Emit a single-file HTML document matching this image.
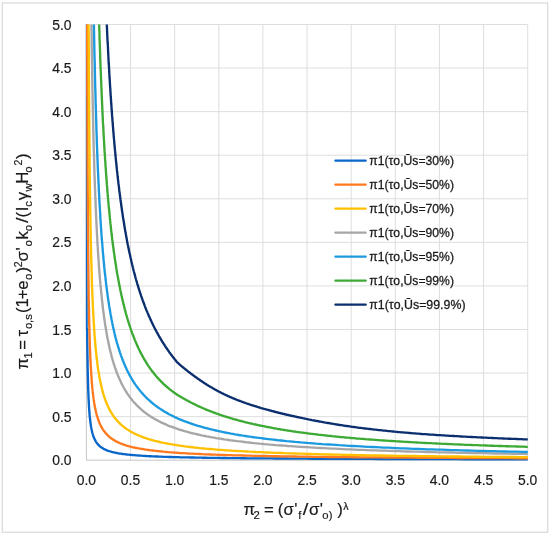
<!DOCTYPE html>
<html><head><meta charset="utf-8"><title>chart</title>
<style>
html,body{margin:0;padding:0;background:#fff;}
svg{display:block;}
text{font-family:"Liberation Sans",sans-serif;fill:#1a1a1a;}
</style></head><body>
<svg width="550" height="538" viewBox="0 0 550 538">
<rect x="0" y="0" width="550" height="538" fill="#fff"/>
<rect x="2.3" y="3.0" width="545.4" height="529.3" fill="none" stroke="#dedede" stroke-width="1.4"/>
<path d="M130.53 24.50V460.20M86.40 416.63H527.70M174.66 24.50V460.20M86.40 373.06H527.70M218.79 24.50V460.20M86.40 329.49H527.70M262.92 24.50V460.20M86.40 285.92H527.70M307.05 24.50V460.20M86.40 242.35H527.70M351.18 24.50V460.20M86.40 198.78H527.70M395.31 24.50V460.20M86.40 155.21H527.70M439.44 24.50V460.20M86.40 111.64H527.70M483.57 24.50V460.20M86.40 68.07H527.70M527.70 24.50V460.20M86.40 24.50H527.70" stroke="#dadada" stroke-width="0.9" fill="none"/>
<path d="M86.40 24.50V460.20H527.70" stroke="#c6c6c6" stroke-width="1" fill="none"/>
<clipPath id="pc"><rect x="85.7" y="24.50" width="442.10" height="438.70"/></clipPath>
<g clip-path="url(#pc)" fill="none" stroke-linejoin="round" stroke-linecap="butt">
<path d="M86.5 -27.8L86.5 68.9L86.5 133.5L86.5 179.9L86.5 214.7L86.5 241.8L86.5 263.6L86.5 281.4L86.6 296.2L86.6 308.8L86.6 319.6L86.6 328.9L86.6 328.9L86.6 328.9L86.6 328.9L86.6 328.9L86.6 328.9L86.6 328.9L86.6 328.9L86.6 328.9L86.7 328.9L86.7 328.9L86.7 328.9L86.7 328.9L86.7 328.9L86.7 328.9L86.7 328.9L86.7 328.9L86.7 328.9L86.7 328.9L86.7 328.9L86.7 328.9L86.7 328.9L86.8 328.9L86.8 328.9L86.8 328.9L86.8 328.9L86.8 328.9L86.8 328.9L86.8 328.9L86.8 328.9L86.8 328.9L86.8 328.9L86.9 328.9L86.9 328.9L86.9 328.9L86.9 328.9L86.9 328.9L86.9 328.9L86.9 328.9L86.9 328.9L87.0 328.9L87.0 328.9L87.0 328.9L87.0 328.9L87.0 328.9L87.0 328.9L87.1 328.9L87.1 328.9L87.1 328.9L87.1 328.9L87.1 329.2L87.1 331.1L87.2 333.0L87.2 334.9L87.2 336.7L87.2 338.6L87.2 340.5L87.3 342.4L87.3 344.2L87.3 346.1L87.3 347.9L87.4 349.7L87.4 351.6L87.4 353.4L87.4 355.2L87.5 356.9L87.5 358.7L87.5 360.4L87.6 362.2L87.6 363.9L87.6 365.6L87.6 367.2L87.7 368.9L87.7 370.5L87.7 372.1L87.8 373.7L87.8 375.3L87.9 376.9L87.9 378.4L87.9 379.9L88.0 381.4L88.0 382.9L88.1 384.4L88.1 385.8L88.1 387.2L88.2 388.6L88.2 390.0L88.3 391.3L88.3 392.6L88.4 394.0L88.4 395.2L88.5 396.5L88.5 397.8L88.6 399.0L88.7 400.2L88.7 401.4L88.8 402.5L88.8 403.7L88.9 404.8L89.0 405.9L89.0 407.0L89.1 408.1L89.2 409.1L89.2 410.2L89.3 411.2L89.4 412.2L89.5 413.1L89.5 414.1L89.6 415.0L89.7 416.0L89.8 416.9L89.9 417.8L90.0 418.6L90.1 419.5L90.2 420.3L90.3 421.1L90.4 421.9L90.5 422.7L90.6 423.5L90.7 424.3L90.8 425.0L90.9 425.8L91.0 426.5L91.2 427.2L91.3 427.9L91.4 428.5L91.5 429.2L91.7 429.9L91.8 430.5L91.9 431.1L92.1 431.7L92.2 432.3L92.4 432.9L92.5 433.5L92.7 434.0L92.9 434.6L93.0 435.1L93.2 435.7L93.4 436.2L93.6 436.7L93.8 437.2L94.0 437.7L94.1 438.1L94.4 438.6L94.6 439.1L94.8 439.5L95.0 439.9L95.2 440.4L95.4 440.8L95.7 441.2L95.9 441.6L96.2 442.0L96.4 442.4L96.7 442.8L97.0 443.1L97.2 443.5L97.5 443.8L97.8 444.2L98.1 444.5L98.4 444.8L98.7 445.2L99.0 445.5L99.4 445.8L99.7 446.1L100.1 446.4L100.4 446.7L100.8 447.0L101.2 447.2L101.5 447.5L101.9 447.8L102.3 448.0L102.8 448.3L103.2 448.6L103.6 448.8L104.1 449.0L104.5 449.3L105.0 449.5L105.5 449.7L106.0 449.9L106.5 450.2L107.0 450.4L107.6 450.6L108.1 450.8L108.7 451.0L109.3 451.2L109.9 451.3L110.5 451.5L111.1 451.7L111.7 451.9L112.4 452.1L113.1 452.2L113.8 452.4L114.5 452.6L115.2 452.7L116.0 452.9L116.7 453.0L117.5 453.2L118.3 453.3L119.2 453.5L120.0 453.6L120.9 453.7L121.8 453.9L122.7 454.0L123.7 454.1L124.7 454.2L125.7 454.4L126.7 454.5L127.7 454.6L128.8 454.7L129.9 454.8L131.1 454.9L132.2 455.0L133.4 455.1L134.6 455.2L135.9 455.3L137.2 455.4L138.5 455.5L139.9 455.6L141.3 455.7L142.7 455.8L144.2 455.9L145.7 456.0L147.2 456.1L148.8 456.2L150.4 456.2L152.1 456.3L153.8 456.4L155.6 456.5L157.4 456.5L159.2 456.6L161.1 456.7L163.1 456.8L165.1 456.8L167.1 456.9L169.3 457.0L171.4 457.0L173.6 457.1L175.9 457.1L178.2 457.2L180.6 457.3L183.1 457.3L185.6 457.4L188.2 457.4L190.9 457.5L193.6 457.5L196.4 457.6L199.3 457.6L202.2 457.7L205.2 457.7L208.3 457.8L211.5 457.8L214.8 457.9L218.1 457.9L221.6 458.0L225.1 458.0L228.7 458.1L232.4 458.1L236.2 458.1L240.1 458.2L244.1 458.2L248.2 458.3L252.5 458.3L256.8 458.3L261.3 458.4L265.8 458.4L270.5 458.4L275.3 458.5L280.2 458.5L285.3 458.5L290.5 458.6L295.8 458.6L301.3 458.6L306.9 458.7L312.6 458.7L318.5 458.7L324.6 458.7L330.8 458.8L337.2 458.8L343.7 458.8L350.4 458.9L357.3 458.9L364.4 458.9L371.6 458.9L379.1 459.0L386.7 459.0L394.5 459.0L402.6 459.0L410.8 459.0L419.3 459.1L428.0 459.1L436.9 459.1L446.0 459.1L455.4 459.2L465.0 459.2L474.9 459.2L485.0 459.2L495.4 459.2L506.1 459.2L517.1 459.3L528.3 459.3" stroke="#0A66C8" stroke-width="2.35"/>
<path d="M87.1 -28.6L87.1 -18.6L87.1 -8.8L87.1 0.7L87.2 10.1L87.2 19.2L87.2 28.2L87.2 36.9L87.2 45.5L87.2 53.8L87.3 62.0L87.3 70.0L87.3 77.9L87.3 85.5L87.3 93.0L87.4 100.3L87.4 107.5L87.4 114.5L87.4 121.4L87.5 128.1L87.5 134.7L87.5 141.1L87.5 147.4L87.5 153.6L87.6 159.6L87.6 165.5L87.6 171.3L87.7 177.0L87.7 182.5L87.7 187.9L87.7 193.3L87.8 198.5L87.8 203.5L87.8 208.5L87.9 213.4L87.9 218.2L87.9 222.9L88.0 227.4L88.0 231.9L88.0 236.3L88.1 240.6L88.1 244.8L88.1 249.0L88.2 253.0L88.2 257.0L88.2 260.8L88.3 264.6L88.3 268.4L88.4 272.0L88.4 275.6L88.5 279.1L88.5 282.5L88.5 285.9L88.6 289.2L88.6 292.4L88.7 295.5L88.7 298.6L88.8 301.7L88.8 304.7L88.9 307.6L89.0 310.4L89.0 313.2L89.1 316.0L89.1 318.7L89.2 321.3L89.2 323.9L89.3 326.4L89.4 328.9L89.4 331.4L89.5 333.8L89.6 336.1L89.6 338.4L89.7 340.7L89.8 342.9L89.9 345.0L89.9 347.2L90.0 349.2L90.1 351.3L90.2 353.3L90.2 355.2L90.3 357.2L90.4 359.1L90.5 360.9L90.6 362.7L90.7 364.5L90.8 366.3L90.9 368.0L91.0 369.7L91.1 371.3L91.2 372.9L91.3 374.5L91.4 376.1L91.5 377.6L91.6 379.1L91.7 380.6L91.8 382.0L91.9 383.5L92.1 384.9L92.2 386.2L92.3 387.6L92.4 388.9L92.6 390.2L92.7 391.4L92.9 392.7L93.0 393.9L93.1 395.1L93.3 396.3L93.4 397.4L93.6 398.5L93.7 399.7L93.9 400.7L94.1 401.8L94.2 402.9L94.4 403.9L94.6 404.9L94.8 405.9L94.9 406.9L95.1 407.8L95.3 408.8L95.5 409.7L95.7 410.6L95.9 411.5L96.1 412.4L96.3 413.2L96.5 414.1L96.8 414.9L97.0 415.7L97.2 416.5L97.5 417.3L97.7 418.0L98.0 418.8L98.2 419.5L98.5 420.3L98.7 421.0L99.0 421.7L99.3 422.4L99.5 423.0L99.8 423.7L100.1 424.3L100.4 425.0L100.7 425.6L101.0 426.2L101.4 426.8L101.7 427.4L102.0 428.0L102.4 428.6L102.7 429.1L103.1 429.7L103.4 430.2L103.8 430.8L104.2 431.3L104.6 431.8L105.0 432.3L105.4 432.8L105.8 433.3L106.2 433.8L106.6 434.2L107.1 434.7L107.5 435.2L108.0 435.6L108.5 436.0L108.9 436.5L109.4 436.9L109.9 437.3L110.4 437.7L111.0 438.1L111.5 438.5L112.1 438.9L112.6 439.3L113.2 439.6L113.8 440.0L114.4 440.4L115.0 440.7L115.6 441.1L116.2 441.4L116.9 441.7L117.5 442.1L118.2 442.4L118.9 442.7L119.6 443.0L120.4 443.3L121.1 443.6L121.8 443.9L122.6 444.2L123.4 444.5L124.2 444.8L125.0 445.0L125.9 445.3L126.7 445.6L127.6 445.8L128.5 446.1L129.4 446.3L130.4 446.6L131.3 446.8L132.3 447.1L133.3 447.3L134.3 447.5L135.4 447.8L136.5 448.0L137.5 448.2L138.7 448.4L139.8 448.6L141.0 448.8L142.2 449.0L143.4 449.2L144.6 449.4L145.9 449.6L147.2 449.8L148.5 450.0L149.9 450.2L151.2 450.4L152.6 450.5L154.1 450.7L155.6 450.9L157.1 451.0L158.6 451.2L160.2 451.4L161.8 451.5L163.4 451.7L165.1 451.8L166.8 452.0L168.6 452.1L170.4 452.3L172.2 452.4L174.1 452.6L176.0 452.7L177.9 452.8L179.9 453.0L182.0 453.1L184.1 453.2L186.2 453.3L188.4 453.5L190.6 453.6L192.9 453.7L195.2 453.8L197.6 453.9L200.0 454.0L202.5 454.2L205.0 454.3L207.6 454.4L210.2 454.5L212.9 454.6L215.7 454.7L218.5 454.8L221.4 454.9L224.3 455.0L227.3 455.1L230.4 455.2L233.5 455.3L236.7 455.3L240.0 455.4L243.4 455.5L246.8 455.6L250.3 455.7L253.9 455.8L257.5 455.8L261.2 455.9L265.0 456.0L268.9 456.1L272.9 456.2L277.0 456.2L281.1 456.3L285.4 456.4L289.7 456.4L294.1 456.5L298.7 456.6L303.3 456.6L308.0 456.7L312.9 456.8L317.8 456.8L322.8 456.9L328.0 457.0L333.3 457.0L338.6 457.1L344.1 457.1L349.8 457.2L355.5 457.2L361.4 457.3L367.4 457.3L373.5 457.4L379.7 457.4L386.1 457.5L392.7 457.5L399.4 457.6L406.2 457.6L413.1 457.7L420.3 457.7L427.5 457.8L435.0 457.8L442.6 457.9L450.3 457.9L458.3 458.0L466.4 458.0L474.7 458.0L483.1 458.1L491.8 458.1L500.6 458.1L509.6 458.2L518.9 458.2L528.3 458.3" stroke="#FF7A1F" stroke-width="2.35"/>
<path d="M88.4 -27.8L88.4 -18.5L88.5 -9.6L88.5 -1.0L88.5 7.2L88.6 15.2L88.6 22.9L88.6 30.4L88.7 37.6L88.7 44.5L88.8 51.3L88.8 57.8L88.8 65.0L88.9 72.0L88.9 79.0L89.0 85.7L89.0 92.4L89.1 98.9L89.1 105.2L89.2 111.5L89.2 117.6L89.3 123.6L89.3 129.4L89.4 135.2L89.4 140.8L89.5 146.3L89.5 151.7L89.6 157.0L89.6 162.2L89.7 167.3L89.7 172.3L89.8 177.2L89.9 182.0L89.9 186.7L90.0 191.3L90.0 195.9L90.1 200.3L90.2 204.7L90.2 208.9L90.3 213.1L90.4 217.2L90.5 221.3L90.5 225.2L90.6 229.1L90.7 232.9L90.7 236.6L90.8 240.3L90.9 243.9L91.0 247.4L91.1 250.9L91.1 254.3L91.2 257.6L91.3 260.9L91.4 264.1L91.5 267.3L91.6 270.4L91.7 273.4L91.8 276.4L91.8 279.4L91.9 282.3L92.0 285.1L92.1 287.9L92.2 290.6L92.3 293.3L92.4 295.9L92.6 298.5L92.7 301.1L92.8 303.6L92.9 306.0L93.0 308.5L93.1 310.8L93.2 313.2L93.4 315.5L93.5 317.7L93.6 319.9L93.7 322.1L93.9 324.2L94.0 326.4L94.1 328.4L94.3 330.5L94.4 332.5L94.5 334.4L94.7 336.4L94.8 338.3L95.0 340.1L95.1 342.0L95.3 343.8L95.4 345.6L95.6 347.3L95.8 349.0L95.9 350.7L96.1 352.4L96.3 354.0L96.4 355.7L96.6 357.3L96.8 358.8L97.0 360.4L97.2 361.9L97.3 363.4L97.5 364.8L97.7 366.3L97.9 367.7L98.1 369.1L98.3 370.5L98.6 371.8L98.8 373.1L99.0 374.4L99.2 375.7L99.4 377.0L99.7 378.3L99.9 379.5L100.1 380.7L100.4 381.9L100.6 383.1L100.9 384.2L101.1 385.4L101.4 386.5L101.6 387.6L101.9 388.7L102.2 389.8L102.5 390.8L102.8 391.9L103.0 392.9L103.3 393.9L103.6 394.9L103.9 395.9L104.2 396.8L104.6 397.8L104.9 398.7L105.2 399.6L105.5 400.5L105.9 401.4L106.2 402.3L106.6 403.2L106.9 404.0L107.3 404.9L107.6 405.7L108.0 406.5L108.4 407.3L108.8 408.1L109.2 408.9L109.6 409.7L110.0 410.4L110.4 411.2L110.8 411.9L111.3 412.6L111.7 413.3L112.1 414.1L112.6 414.7L113.0 415.4L113.5 416.1L114.0 416.8L114.5 417.4L115.0 418.1L115.5 418.7L116.0 419.3L116.5 419.9L117.0 420.6L117.6 421.2L118.1 421.7L118.7 422.3L119.3 422.9L119.8 423.5L120.4 424.0L121.0 424.6L121.6 425.1L122.2 425.6L122.9 426.2L123.5 426.7L124.2 427.2L124.8 427.7L125.5 428.2L126.2 428.7L126.9 429.2L127.6 429.6L128.3 430.1L129.1 430.6L129.8 431.0L130.6 431.5L131.4 431.9L132.2 432.4L133.0 432.8L133.8 433.2L134.6 433.6L135.5 434.0L136.3 434.4L137.2 434.8L138.1 435.2L139.0 435.6L139.9 436.0L140.9 436.4L141.8 436.7L142.8 437.1L143.8 437.5L144.8 437.8L145.8 438.2L146.9 438.5L148.0 438.9L149.0 439.2L150.1 439.5L151.3 439.8L152.4 440.2L153.6 440.5L154.7 440.8L156.0 441.1L157.2 441.4L158.4 441.7L159.7 442.0L161.0 442.3L162.3 442.6L163.6 442.8L165.0 443.1L166.4 443.4L167.8 443.7L169.2 443.9L170.7 444.2L172.1 444.4L173.7 444.7L175.2 444.9L176.8 445.2L178.3 445.4L180.0 445.7L181.6 445.9L183.3 446.1L185.0 446.4L186.7 446.6L188.5 446.8L190.3 447.0L192.1 447.2L194.0 447.5L195.9 447.7L197.8 447.9L199.8 448.1L201.7 448.3L203.8 448.5L205.8 448.7L207.9 448.8L210.1 449.0L212.3 449.2L214.5 449.4L216.7 449.6L219.0 449.8L221.4 449.9L223.7 450.1L226.1 450.3L228.6 450.4L231.1 450.6L233.7 450.8L236.2 450.9L238.9 451.1L241.6 451.2L244.3 451.4L247.1 451.5L249.9 451.7L252.8 451.8L255.7 452.0L258.7 452.1L261.7 452.2L264.8 452.4L267.9 452.5L271.1 452.6L274.4 452.8L277.7 452.9L281.1 453.0L284.5 453.2L288.0 453.3L291.5 453.4L295.1 453.5L298.8 453.6L302.5 453.7L306.3 453.9L310.2 454.0L314.1 454.1L318.2 454.2L322.2 454.3L326.4 454.4L330.6 454.5L334.9 454.6L339.3 454.7L343.7 454.8L348.3 454.9L352.9 455.0L357.5 455.1L362.3 455.2L367.2 455.3L372.1 455.4L377.1 455.4L382.3 455.5L387.5 455.6L392.8 455.7L398.2 455.8L403.6 455.9L409.2 455.9L414.9 456.0L420.7 456.1L426.6 456.2L432.6 456.2L438.6 456.3L444.8 456.4L451.1 456.5L457.6 456.5L464.1 456.6L470.7 456.7L477.5 456.7L484.4 456.8L491.4 456.9L498.5 456.9L505.8 457.0L513.1 457.0L520.7 457.1L528.3 457.2" stroke="#FFC000" stroke-width="2.35"/>
<path d="M90.9 -27.8L90.9 -24.7L90.9 -21.7L91.0 -18.7L91.0 -15.8L91.0 -12.9L91.1 -10.0L91.1 -7.2L91.1 -4.4L91.1 -1.6L91.2 1.1L91.2 3.8L91.3 9.9L91.3 16.0L91.4 21.9L91.5 27.7L91.6 33.5L91.7 39.2L91.7 44.8L91.8 50.3L91.9 55.8L92.0 61.2L92.1 66.5L92.2 71.7L92.2 76.9L92.3 82.0L92.4 87.1L92.5 92.0L92.6 96.9L92.7 101.8L92.8 106.5L92.9 111.2L93.0 115.9L93.1 120.5L93.2 125.0L93.3 129.4L93.4 133.8L93.5 138.2L93.6 142.5L93.7 146.7L93.8 150.9L94.0 155.0L94.1 159.0L94.2 163.1L94.3 167.0L94.4 170.9L94.5 174.8L94.7 178.6L94.8 182.3L94.9 186.0L95.1 189.7L95.2 193.3L95.3 196.8L95.5 200.3L95.6 203.8L95.7 207.2L95.9 210.6L96.0 213.9L96.2 217.2L96.3 220.4L96.5 223.6L96.6 226.8L96.8 229.9L96.9 233.0L97.1 236.0L97.3 239.0L97.4 241.9L97.6 244.8L97.8 247.7L97.9 250.6L98.1 253.4L98.3 256.1L98.5 258.9L98.7 261.5L98.8 264.2L99.0 266.8L99.2 269.4L99.4 272.0L99.6 274.5L99.8 277.0L100.0 279.4L100.2 281.9L100.4 284.2L100.7 286.6L100.9 288.9L101.1 291.2L101.3 293.5L101.6 295.7L101.8 297.9L102.0 300.1L102.3 302.3L102.5 304.4L102.7 306.5L103.0 308.6L103.2 310.6L103.5 312.6L103.8 314.6L104.0 316.6L104.3 318.5L104.6 320.4L104.8 322.3L105.1 324.2L105.4 326.0L105.7 327.8L106.0 329.6L106.3 331.4L106.6 333.1L106.9 334.9L107.2 336.6L107.5 338.2L107.9 339.9L108.2 341.5L108.5 343.1L108.9 344.7L109.2 346.3L109.5 347.8L109.9 349.4L110.3 350.9L110.6 352.4L111.0 353.8L111.4 355.3L111.7 356.7L112.1 358.1L112.5 359.5L112.9 360.9L113.3 362.3L113.7 363.6L114.1 364.9L114.6 366.2L115.0 367.5L115.4 368.8L115.9 370.0L116.3 371.3L116.8 372.5L117.2 373.7L117.7 374.9L118.2 376.1L118.7 377.2L119.2 378.4L119.7 379.5L120.2 380.6L120.7 381.7L121.2 382.8L121.7 383.9L122.3 384.9L122.8 386.0L123.4 387.0L123.9 388.0L124.5 389.0L125.1 390.0L125.7 391.0L126.3 391.9L126.9 392.9L127.5 393.8L128.1 394.7L128.8 395.7L129.4 396.6L130.1 397.4L130.7 398.3L131.4 399.2L132.1 400.0L132.8 400.9L133.5 401.7L134.2 402.5L135.0 403.3L135.7 404.1L136.5 404.9L137.2 405.7L138.0 406.5L138.8 407.2L139.6 408.0L140.4 408.7L141.2 409.4L142.0 410.1L142.9 410.9L143.7 411.6L144.6 412.2L145.5 412.9L146.4 413.6L147.3 414.3L148.3 414.9L149.2 415.6L150.2 416.2L151.1 416.8L152.1 417.4L153.1 418.0L154.1 418.6L155.2 419.2L156.2 419.8L157.3 420.4L158.4 421.0L159.5 421.5L160.6 422.1L161.7 422.6L162.8 423.2L164.0 423.7L165.2 424.2L166.4 424.7L167.6 425.3L168.8 425.8L170.1 426.3L171.4 426.7L172.7 427.2L174.0 427.7L175.3 428.2L176.7 428.6L178.1 429.1L179.5 429.6L180.9 430.0L182.3 430.4L183.8 430.9L185.3 431.3L186.8 431.7L188.3 432.1L189.8 432.6L191.4 433.0L193.0 433.4L194.6 433.7L196.3 434.1L198.0 434.5L199.7 434.9L201.4 435.3L203.2 435.6L204.9 436.0L206.7 436.4L208.6 436.7L210.4 437.1L212.3 437.4L214.2 437.7L216.2 438.1L218.2 438.4L220.2 438.7L222.2 439.0L224.3 439.4L226.4 439.7L228.5 440.0L230.7 440.3L232.9 440.6L235.1 440.9L237.4 441.2L239.7 441.4L242.0 441.7L244.4 442.0L246.8 442.3L249.2 442.5L251.7 442.8L254.2 443.1L256.8 443.3L259.4 443.6L262.0 443.8L264.7 444.1L267.4 444.3L270.2 444.6L273.0 444.8L275.8 445.1L278.7 445.3L281.7 445.5L284.6 445.7L287.7 446.0L290.7 446.2L293.8 446.4L297.0 446.6L300.2 446.8L303.5 447.0L306.8 447.2L310.1 447.4L313.5 447.6L317.0 447.8L320.5 448.0L324.1 448.2L327.7 448.4L331.4 448.6L335.1 448.7L338.9 448.9L342.8 449.1L346.7 449.3L350.6 449.4L354.7 449.6L358.7 449.8L362.9 449.9L367.1 450.1L371.4 450.3L375.7 450.4L380.1 450.6L384.6 450.7L389.2 450.9L393.8 451.0L398.5 451.2L403.2 451.3L408.0 451.5L412.9 451.6L417.9 451.7L423.0 451.9L428.1 452.0L433.3 452.1L438.6 452.3L444.0 452.4L449.4 452.5L455.0 452.6L460.6 452.8L466.3 452.9L472.1 453.0L477.9 453.1L483.9 453.2L490.0 453.3L496.1 453.5L502.4 453.6L508.7 453.7L515.1 453.8L521.7 453.9L528.3 454.0" stroke="#A6A6A6" stroke-width="2.35"/>
<path d="M93.1 -27.8L93.2 -22.6L93.3 -17.6L93.3 -12.7L93.4 -7.8L93.5 -3.1L93.5 1.6L93.6 6.1L93.7 10.6L93.8 15.0L93.8 19.2L93.9 23.5L94.0 29.1L94.1 34.7L94.2 40.2L94.3 45.7L94.4 51.0L94.5 56.3L94.7 61.5L94.8 66.7L94.9 71.7L95.0 76.7L95.1 81.7L95.2 86.5L95.4 91.3L95.5 96.1L95.6 100.7L95.7 105.4L95.9 109.9L96.0 114.4L96.1 118.8L96.3 123.2L96.4 127.5L96.5 131.7L96.7 135.9L96.8 140.1L96.9 144.1L97.1 148.2L97.2 152.1L97.4 156.1L97.5 159.9L97.7 163.8L97.8 167.5L98.0 171.2L98.2 174.9L98.3 178.5L98.5 182.1L98.7 185.6L98.8 189.1L99.0 192.5L99.2 195.9L99.3 199.3L99.5 202.6L99.7 205.8L99.9 209.0L100.1 212.2L100.3 215.3L100.4 218.4L100.6 221.5L100.8 224.5L101.0 227.5L101.2 230.4L101.4 233.3L101.6 236.2L101.8 239.0L102.1 241.8L102.3 244.5L102.5 247.2L102.7 249.9L102.9 252.6L103.2 255.2L103.4 257.7L103.6 260.3L103.9 262.8L104.1 265.3L104.3 267.7L104.6 270.1L104.8 272.5L105.1 274.9L105.4 277.2L105.6 279.5L105.9 281.8L106.1 284.0L106.4 286.2L106.7 288.4L107.0 290.6L107.3 292.7L107.5 294.8L107.8 296.9L108.1 298.9L108.4 300.9L108.7 302.9L109.0 304.9L109.3 306.9L109.7 308.8L110.0 310.7L110.3 312.6L110.6 314.4L111.0 316.2L111.3 318.1L111.6 319.8L112.0 321.6L112.3 323.3L112.7 325.1L113.0 326.8L113.4 328.4L113.8 330.1L114.2 331.7L114.5 333.3L114.9 334.9L115.3 336.5L115.7 338.1L116.1 339.6L116.5 341.1L116.9 342.6L117.4 344.1L117.8 345.5L118.2 347.0L118.7 348.4L119.1 349.8L119.5 351.2L120.0 352.6L120.5 353.9L120.9 355.3L121.4 356.6L121.9 357.9L122.4 359.2L122.9 360.5L123.4 361.7L123.9 363.0L124.4 364.2L124.9 365.4L125.4 366.6L126.0 367.8L126.5 369.0L127.1 370.1L127.6 371.3L128.2 372.4L128.8 373.5L129.3 374.6L129.9 375.7L130.5 376.7L131.1 377.8L131.8 378.8L132.4 379.9L133.0 380.9L133.6 381.9L134.3 382.9L134.9 383.9L135.6 384.9L136.3 385.8L137.0 386.8L137.7 387.7L138.4 388.6L139.1 389.5L139.8 390.4L140.5 391.3L141.3 392.2L142.0 393.1L142.8 393.9L143.6 394.8L144.4 395.6L145.2 396.5L146.0 397.3L146.8 398.1L147.6 398.9L148.5 399.7L149.3 400.4L150.2 401.2L151.0 402.0L151.9 402.7L152.8 403.5L153.7 404.2L154.7 404.9L155.6 405.6L156.6 406.3L157.5 407.0L158.5 407.7L159.5 408.4L160.5 409.1L161.5 409.7L162.5 410.4L163.6 411.0L164.6 411.7L165.7 412.3L166.8 412.9L167.9 413.5L169.0 414.2L170.2 414.8L171.3 415.3L172.5 415.9L173.7 416.5L174.8 417.1L176.1 417.6L177.3 418.2L178.5 418.8L179.8 419.3L181.1 419.8L182.4 420.4L183.7 420.9L185.0 421.4L186.4 421.9L187.8 422.4L189.2 422.9L190.6 423.4L192.0 423.9L193.4 424.4L194.9 424.9L196.4 425.3L197.9 425.8L199.4 426.2L201.0 426.7L202.6 427.1L204.2 427.6L205.8 428.0L207.4 428.4L209.1 428.9L210.8 429.3L212.5 429.7L214.2 430.1L216.0 430.5L217.7 430.9L219.5 431.3L221.4 431.7L223.2 432.1L225.1 432.5L227.0 432.8L228.9 433.2L230.9 433.6L232.9 433.9L234.9 434.3L236.9 434.6L239.0 435.0L241.1 435.3L243.2 435.7L245.4 436.0L247.5 436.3L249.8 436.7L252.0 437.0L254.3 437.3L256.6 437.6L258.9 437.9L261.3 438.2L263.7 438.5L266.1 438.8L268.6 439.1L271.1 439.4L273.6 439.7L276.2 440.0L278.8 440.3L281.4 440.5L284.1 440.8L286.8 441.1L289.6 441.3L292.4 441.6L295.2 441.9L298.0 442.1L301.0 442.4L303.9 442.6L306.9 442.9L309.9 443.1L313.0 443.3L316.1 443.6L319.2 443.8L322.4 444.1L325.7 444.3L329.0 444.5L332.3 444.7L335.7 444.9L339.1 445.2L342.6 445.4L346.1 445.6L349.6 445.8L353.2 446.0L356.9 446.2L360.6 446.4L364.4 446.6L368.2 446.8L372.1 447.0L376.0 447.2L380.0 447.4L384.0 447.6L388.1 447.7L392.2 447.9L396.4 448.1L400.7 448.3L405.0 448.4L409.4 448.6L413.8 448.8L418.3 448.9L422.8 449.1L427.5 449.3L432.1 449.4L436.9 449.6L441.7 449.7L446.6 449.9L451.5 450.1L456.5 450.2L461.6 450.4L466.8 450.5L472.0 450.6L477.3 450.8L482.6 450.9L488.1 451.1L493.6 451.2L499.2 451.3L504.8 451.5L510.6 451.6L516.4 451.7L522.3 451.9L528.3 452.0" stroke="#1C9AE0" stroke-width="2.35"/>
<path d="M97.8 -27.8L97.9 -22.4L98.1 -17.2L98.2 -12.0L98.3 -7.0L98.4 -2.1L98.6 2.8L98.7 7.5L98.8 12.1L98.9 16.7L99.1 21.1L99.2 25.5L99.3 28.2L99.4 31.0L99.5 33.8L99.5 36.5L99.6 39.2L99.7 41.9L99.8 44.6L99.9 47.3L100.0 49.9L100.1 52.5L100.2 55.1L100.2 57.7L100.3 60.3L100.4 62.8L100.5 65.4L100.6 67.9L100.7 70.4L100.8 72.9L100.9 75.3L101.0 77.8L101.1 80.2L101.2 82.6L101.3 85.0L101.4 87.4L101.5 89.8L101.6 92.1L101.7 94.5L101.8 96.8L101.9 99.1L102.0 101.4L102.1 103.6L102.2 105.9L102.3 108.1L102.4 110.4L102.5 112.6L102.6 114.8L102.7 116.9L102.8 119.1L102.9 121.3L103.0 123.4L103.2 125.5L103.3 127.6L103.4 129.7L103.5 131.8L103.6 133.9L103.7 135.9L103.8 138.0L103.9 140.0L104.1 142.0L104.2 144.0L104.3 146.0L104.4 148.0L104.5 149.9L104.6 151.9L104.8 153.8L104.9 155.8L105.0 157.7L105.1 159.6L105.3 161.5L105.4 163.3L105.5 165.2L105.6 167.0L105.8 168.9L105.9 170.7L106.0 172.5L106.1 174.3L106.3 176.1L106.4 177.9L106.5 179.7L106.7 181.4L106.8 183.2L106.9 184.9L107.1 186.6L107.2 188.3L107.3 190.0L107.5 191.7L107.6 193.4L107.8 195.1L107.9 196.7L108.0 198.4L108.2 200.0L108.3 201.6L108.5 203.3L108.6 204.9L108.8 206.5L108.9 208.0L109.1 209.6L109.2 211.2L109.4 212.7L109.5 214.3L109.7 215.8L109.8 217.4L110.0 218.9L110.1 220.4L110.3 221.9L110.4 223.4L110.6 224.9L110.8 226.3L110.9 227.8L111.1 229.2L111.2 230.7L111.4 232.1L111.6 233.5L111.7 235.0L111.9 236.4L112.1 237.8L112.2 239.2L112.4 240.5L112.6 241.9L112.7 243.3L112.9 244.6L113.1 246.0L113.3 247.3L113.5 248.7L113.6 250.0L113.8 251.3L114.0 252.6L114.2 253.9L114.4 255.2L114.5 256.5L114.7 257.8L114.9 259.0L115.1 260.3L115.3 261.5L115.5 262.8L115.7 264.0L115.9 265.2L116.1 266.5L116.2 267.7L116.4 268.9L116.6 270.1L116.8 271.3L117.0 272.5L117.2 273.7L117.4 274.8L117.7 276.0L117.9 277.1L118.1 278.3L118.3 279.4L118.5 280.6L118.7 281.7L118.9 282.8L119.1 283.9L119.3 285.1L119.6 286.2L119.8 287.3L120.0 288.3L120.2 289.4L120.4 290.5L120.7 291.6L120.9 292.6L121.1 293.7L121.3 294.7L121.6 295.8L121.8 296.8L122.0 297.9L122.3 298.9L122.5 299.9L122.7 300.9L123.0 301.9L123.2 302.9L123.5 303.9L123.7 304.9L124.0 305.9L124.2 306.9L124.5 307.9L124.7 308.8L125.0 309.8L125.2 310.7L125.5 311.7L125.7 312.6L126.0 313.6L126.2 314.5L126.5 315.4L126.8 316.4L127.0 317.3L127.3 318.2L127.6 319.1L127.8 320.0L128.1 320.9L128.4 321.8L128.7 322.7L128.9 323.5L129.2 324.4L129.5 325.3L129.8 326.1L130.1 327.0L130.4 327.9L130.7 328.7L130.9 329.5L131.2 330.4L131.5 331.2L131.8 332.0L132.1 332.9L132.4 333.7L132.7 334.5L133.0 335.3L133.3 336.1L133.7 336.9L134.0 337.7L134.3 338.5L134.6 339.3L134.9 340.1L135.2 340.8L135.6 341.6L135.9 342.4L136.2 343.1L136.5 343.9L136.9 344.7L137.2 345.4L137.5 346.1L137.9 346.9L138.2 347.6L138.5 348.3L138.9 349.1L139.2 349.8L139.6 350.5L139.9 351.2L140.3 351.9L140.6 352.6L141.0 353.3L141.4 354.0L141.7 354.7L142.1 355.4L142.5 356.0L142.8 356.7L143.2 357.4L143.6 358.0L143.9 358.7L144.3 359.4L144.7 360.0L145.1 360.7L145.5 361.3L145.9 361.9L146.3 362.6L146.6 363.2L147.0 363.8L147.4 364.4L147.8 365.1L148.2 365.7L148.7 366.3L149.1 366.9L149.5 367.5L149.9 368.1L150.3 368.7L150.7 369.2L151.2 369.8L151.6 370.4L152.0 371.0L152.4 371.6L152.9 372.1L153.3 372.7L153.8 373.2L154.2 373.8L154.6 374.3L155.1 374.9L155.6 375.4L156.0 376.0L156.5 376.5L156.9 377.0L157.4 377.6L157.9 378.1L158.3 378.6L158.8 379.1L159.3 379.6L159.8 380.1L160.2 380.6L160.7 381.1L161.2 381.6L161.7 382.1L162.2 382.6L162.7 383.1L163.2 383.6L163.7 384.1L164.2 384.5L164.7 385.0L165.3 385.5L165.8 385.9L166.3 386.4L166.8 386.8L167.3 387.3L167.9 387.7L168.4 388.2L169.0 388.6L169.5 389.1L170.0 389.5L170.6 389.9L171.2 390.4L171.7 390.8L172.3 391.2L172.8 391.6L173.4 392.1L174.0 392.5L174.6 392.9L175.1 393.3L175.7 393.7L176.3 394.1L176.9 394.5L177.5 394.9L178.0 395.2L178.5 395.5L179.0 395.8L179.4 396.1L179.9 396.3L180.4 396.6L180.9 396.9L181.4 397.2L181.9 397.5L182.4 397.8L182.9 398.1L183.5 398.4L184.0 398.7L184.5 399.0L185.0 399.3L185.5 399.6L186.1 399.9L186.6 400.2L187.1 400.5L187.6 400.7L188.2 401.0L188.7 401.3L189.3 401.6L189.8 401.9L190.4 402.2L190.9 402.5L191.5 402.8L192.0 403.0L192.6 403.3L193.1 403.6L193.7 403.9L194.3 404.2L194.8 404.4L195.4 404.7L196.0 405.0L196.6 405.3L197.2 405.6L197.7 405.8L198.3 406.1L198.9 406.4L199.5 406.7L200.1 406.9L200.7 407.2L201.3 407.5L201.9 407.7L202.6 408.0L203.2 408.3L203.8 408.5L204.4 408.8L205.0 409.1L205.7 409.3L206.3 409.6L206.9 409.9L207.6 410.1L208.2 410.4L208.9 410.6L209.5 410.9L210.2 411.1L210.8 411.4L211.5 411.7L212.1 411.9L212.8 412.2L213.5 412.4L214.1 412.7L214.8 412.9L215.5 413.2L216.2 413.4L216.9 413.7L217.6 413.9L218.2 414.1L218.9 414.4L219.6 414.6L220.4 414.9L221.1 415.1L221.8 415.4L222.5 415.6L223.2 415.8L223.9 416.1L224.7 416.3L225.4 416.5L226.1 416.8L226.9 417.0L227.6 417.2L228.4 417.5L229.1 417.7L229.9 417.9L230.6 418.2L231.4 418.4L232.2 418.6L232.9 418.8L233.7 419.1L234.5 419.3L235.3 419.5L236.1 419.7L236.9 419.9L237.7 420.2L238.5 420.4L239.3 420.6L240.1 420.8L240.9 421.0L241.7 421.2L242.5 421.4L243.4 421.7L244.2 421.9L245.0 422.1L245.9 422.3L246.7 422.5L247.6 422.7L248.4 422.9L249.3 423.1L250.1 423.3L251.0 423.5L251.9 423.7L252.7 423.9L253.6 424.1L254.5 424.3L255.4 424.5L256.3 424.7L257.2 424.9L258.1 425.1L259.0 425.3L259.9 425.5L260.8 425.7L261.8 425.9L262.7 426.1L263.6 426.2L264.6 426.4L265.5 426.6L266.5 426.8L267.4 427.0L268.4 427.2L269.3 427.4L270.3 427.5L271.3 427.7L272.3 427.9L273.2 428.1L274.2 428.3L275.2 428.4L276.2 428.6L277.2 428.8L278.2 429.0L279.2 429.1L280.3 429.3L281.3 429.5L282.3 429.7L283.4 429.8L284.4 430.0L285.5 430.2L286.5 430.3L287.6 430.5L288.6 430.7L289.7 430.8L290.8 431.0L291.9 431.2L293.0 431.3L294.0 431.5L295.1 431.6L296.3 431.8L297.4 432.0L298.5 432.1L299.6 432.3L300.7 432.4L301.9 432.6L303.0 432.7L304.2 432.9L305.3 433.0L306.5 433.2L307.6 433.3L308.8 433.5L310.0 433.6L311.2 433.8L312.4 433.9L313.6 434.1L314.8 434.2L316.0 434.4L317.2 434.5L318.4 434.7L319.6 434.8L320.9 434.9L322.1 435.1L323.4 435.2L324.6 435.4L325.9 435.5L327.1 435.6L328.4 435.8L329.7 435.9L331.0 436.0L332.3 436.2L333.6 436.3L334.9 436.4L336.2 436.6L337.5 436.7L338.9 436.8L340.2 437.0L341.5 437.1L342.9 437.2L344.3 437.3L345.6 437.5L347.0 437.6L348.4 437.7L349.8 437.8L351.2 438.0L352.6 438.1L354.0 438.2L355.4 438.3L356.8 438.5L358.2 438.6L359.7 438.7L361.1 438.8L362.6 438.9L364.0 439.0L365.5 439.2L367.0 439.3L368.5 439.4L370.0 439.5L371.5 439.6L373.0 439.7L374.5 439.8L376.0 439.9L377.6 440.1L379.1 440.2L380.6 440.3L382.2 440.4L383.8 440.5L385.3 440.6L386.9 440.7L388.5 440.8L390.1 440.9L391.7 441.0L393.3 441.1L395.0 441.2L396.6 441.3L398.2 441.4L399.9 441.5L401.6 441.6L403.2 441.7L404.9 441.8L406.6 441.9L408.3 442.0L410.0 442.1L411.7 442.2L413.4 442.3L415.2 442.4L416.9 442.5L418.7 442.6L420.4 442.7L422.2 442.8L424.0 442.9L425.7 443.0L427.5 443.1L429.3 443.1L431.2 443.2L433.0 443.3L434.8 443.4L436.7 443.5L438.5 443.6L440.4 443.7L442.3 443.8L444.1 443.8L446.0 443.9L447.9 444.0L449.9 444.1L451.8 444.2L453.7 444.3L455.7 444.3L457.6 444.4L459.6 444.5L461.6 444.6L463.5 444.7L465.5 444.8L467.6 444.8L469.6 444.9L471.6 445.0L473.6 445.1L475.7 445.1L477.8 445.2L479.8 445.3L481.9 445.4L484.0 445.4L486.1 445.5L488.2 445.6L490.4 445.7L492.5 445.7L494.6 445.8L496.8 445.9L499.0 446.0L501.2 446.0L503.4 446.1L505.6 446.2L507.8 446.2L510.0 446.3L512.3 446.4L514.5 446.4L516.8 446.5L519.1 446.6L521.4 446.6L523.7 446.7L526.0 446.8L528.3 446.8" stroke="#3DAA35" stroke-width="2.35"/>
<path d="M104.6 -27.8L104.8 -23.3L105.0 -18.8L105.1 -14.5L105.3 -10.2L105.5 -6.0L105.6 -1.9L105.8 2.2L106.0 6.2L106.2 10.1L106.3 13.9L106.5 17.7L106.6 20.0L106.7 22.3L106.8 24.6L106.9 26.8L107.0 29.1L107.1 31.3L107.2 33.5L107.3 35.7L107.4 37.9L107.5 40.1L107.6 42.2L107.8 44.4L107.9 46.5L108.0 48.6L108.1 50.8L108.2 52.9L108.3 55.0L108.4 57.0L108.5 59.1L108.6 61.2L108.7 63.2L108.9 65.2L109.0 67.2L109.1 69.3L109.2 71.3L109.3 73.2L109.4 75.2L109.5 77.2L109.7 79.1L109.8 81.1L109.9 83.0L110.0 84.9L110.1 86.8L110.3 88.7L110.4 90.6L110.5 92.5L110.6 94.3L110.7 96.2L110.9 98.0L111.0 99.9L111.1 101.7L111.2 103.5L111.4 105.3L111.5 107.1L111.6 108.9L111.7 110.7L111.9 112.4L112.0 114.2L112.1 115.9L112.3 117.7L112.4 119.4L112.5 121.1L112.7 122.8L112.8 124.5L112.9 126.2L113.1 127.9L113.2 129.5L113.3 131.2L113.5 132.8L113.6 134.5L113.7 136.1L113.9 137.7L114.0 139.4L114.2 141.0L114.3 142.6L114.4 144.1L114.6 145.7L114.7 147.3L114.9 148.9L115.0 150.4L115.2 152.0L115.3 153.5L115.4 155.0L115.6 156.5L115.7 158.1L115.9 159.6L116.0 161.1L116.2 162.5L116.3 164.0L116.5 165.5L116.6 167.0L116.8 168.4L116.9 169.9L117.1 171.3L117.3 172.7L117.4 174.2L117.6 175.6L117.7 177.0L117.9 178.4L118.0 179.8L118.2 181.2L118.4 182.6L118.5 183.9L118.7 185.3L118.9 186.7L119.0 188.0L119.2 189.4L119.3 190.7L119.5 192.0L119.7 193.4L119.9 194.7L120.0 196.0L120.2 197.3L120.4 198.6L120.5 199.9L120.7 201.2L120.9 202.4L121.1 203.7L121.2 205.0L121.4 206.2L121.6 207.5L121.8 208.7L121.9 210.0L122.1 211.2L122.3 212.4L122.5 213.6L122.7 214.9L122.8 216.1L123.0 217.3L123.2 218.5L123.4 219.6L123.6 220.8L123.8 222.0L124.0 223.2L124.2 224.3L124.3 225.5L124.5 226.6L124.7 227.8L124.9 228.9L125.1 230.1L125.3 231.2L125.5 232.3L125.7 233.4L125.9 234.5L126.1 235.6L126.3 236.7L126.5 237.8L126.7 238.9L126.9 240.0L127.1 241.1L127.3 242.2L127.5 243.2L127.7 244.3L128.0 245.4L128.2 246.4L128.4 247.5L128.6 248.5L128.8 249.5L129.0 250.6L129.2 251.6L129.4 252.6L129.7 253.6L129.9 254.6L130.1 255.6L130.3 256.6L130.5 257.6L130.8 258.6L131.0 259.6L131.2 260.6L131.4 261.6L131.7 262.5L131.9 263.5L132.1 264.5L132.4 265.4L132.6 266.4L132.8 267.3L133.1 268.3L133.3 269.2L133.5 270.1L133.8 271.1L134.0 272.0L134.3 272.9L134.5 273.8L134.7 274.7L135.0 275.6L135.2 276.5L135.5 277.4L135.7 278.3L136.0 279.2L136.2 280.1L136.5 281.0L136.7 281.9L137.0 282.7L137.2 283.6L137.5 284.5L137.8 285.3L138.0 286.2L138.3 287.0L138.5 287.9L138.8 288.7L139.1 289.6L139.3 290.4L139.6 291.2L139.9 292.1L140.1 292.9L140.4 293.7L140.7 294.5L141.0 295.3L141.2 296.1L141.5 296.9L141.8 297.7L142.1 298.5L142.4 299.3L142.6 300.1L142.9 300.9L143.2 301.7L143.5 302.5L143.8 303.3L144.1 304.0L144.4 304.8L144.7 305.6L145.0 306.3L145.2 307.1L145.5 307.8L145.8 308.6L146.1 309.4L146.4 310.1L146.7 310.8L147.1 311.6L147.4 312.3L147.7 313.1L148.0 313.8L148.3 314.5L148.6 315.2L148.9 316.0L149.2 316.7L149.6 317.4L149.9 318.1L150.2 318.8L150.5 319.5L150.8 320.2L151.2 320.9L151.5 321.6L151.8 322.3L152.2 323.0L152.5 323.7L152.8 324.4L153.2 325.1L153.5 325.8L153.8 326.4L154.2 327.1L154.5 327.8L154.9 328.5L155.2 329.1L155.6 329.8L155.9 330.5L156.3 331.1L156.6 331.8L157.0 332.4L157.3 333.1L157.7 333.7L158.0 334.4L158.4 335.0L158.8 335.7L159.1 336.3L159.5 337.0L159.9 337.6L160.2 338.2L160.6 338.9L161.0 339.5L161.4 340.1L161.7 340.7L162.1 341.4L162.5 342.0L162.9 342.6L163.3 343.2L163.7 343.8L164.1 344.4L164.5 345.0L164.8 345.6L165.2 346.2L165.6 346.8L166.0 347.4L166.4 348.0L166.8 348.6L167.3 349.2L167.7 349.8L168.1 350.4L168.5 351.0L168.9 351.6L169.3 352.2L169.7 352.7L170.2 353.3L170.6 353.9L171.0 354.5L171.4 355.0L171.9 355.6L172.3 356.2L172.7 356.7L173.2 357.3L173.6 357.9L174.1 358.4L174.5 359.0L174.9 359.5L175.4 360.1L175.8 360.7L176.3 361.2L176.7 361.8L177.2 362.3L177.7 362.7L178.2 363.2L178.7 363.6L179.1 364.1L179.6 364.5L180.1 364.9L180.6 365.4L181.1 365.8L181.6 366.2L182.1 366.6L182.6 367.1L183.2 367.5L183.7 367.9L184.2 368.3L184.7 368.7L185.2 369.2L185.7 369.6L186.3 370.0L186.8 370.4L187.3 370.8L187.9 371.3L188.4 371.7L189.0 372.1L189.5 372.5L190.0 372.9L190.6 373.4L191.1 373.8L191.7 374.2L192.3 374.6L192.8 375.0L193.4 375.4L194.0 375.9L194.5 376.3L195.1 376.7L195.7 377.1L196.3 377.5L196.8 377.9L197.4 378.3L198.0 378.8L198.6 379.2L199.2 379.6L199.8 380.0L200.4 380.4L201.0 380.8L201.6 381.2L202.2 381.6L202.8 382.1L203.5 382.5L204.1 382.9L204.7 383.3L205.3 383.7L206.0 384.1L206.6 384.5L207.2 384.9L207.9 385.3L208.5 385.7L209.2 386.1L209.8 386.5L210.5 386.9L211.1 387.2L211.8 387.6L212.5 388.0L213.1 388.4L213.8 388.8L214.5 389.2L215.2 389.6L215.8 389.9L216.5 390.3L217.2 390.7L217.9 391.1L218.6 391.4L219.3 391.8L220.0 392.2L220.7 392.5L221.4 392.9L222.2 393.3L222.9 393.6L223.6 394.0L224.3 394.3L225.1 394.7L225.8 395.0L226.5 395.4L227.3 395.7L228.0 396.1L228.8 396.4L229.5 396.7L230.3 397.1L231.1 397.4L231.8 397.7L232.6 398.1L233.4 398.4L234.2 398.7L234.9 399.0L235.7 399.4L236.5 399.7L237.3 400.0L238.1 400.3L238.9 400.6L239.7 400.9L240.5 401.2L241.4 401.5L242.2 401.8L243.0 402.1L243.8 402.4L244.7 402.7L245.5 403.0L246.4 403.3L247.2 403.6L248.1 403.9L248.9 404.2L249.8 404.5L250.7 404.8L251.5 405.0L252.4 405.3L253.3 405.6L254.2 405.9L255.1 406.2L256.0 406.5L256.9 406.7L257.8 407.0L258.7 407.3L259.6 407.5L260.5 407.8L261.4 408.1L262.4 408.4L263.3 408.6L264.2 408.9L265.2 409.2L266.1 409.4L267.1 409.7L268.0 409.9L269.0 410.2L270.0 410.5L270.9 410.7L271.9 411.0L272.9 411.2L273.9 411.5L274.9 411.8L275.9 412.0L276.9 412.3L277.9 412.5L278.9 412.8L279.9 413.0L281.0 413.3L282.0 413.5L283.0 413.8L284.1 414.0L285.1 414.3L286.2 414.5L287.2 414.8L288.3 415.0L289.4 415.3L290.5 415.5L291.5 415.8L292.6 416.0L293.7 416.2L294.8 416.5L295.9 416.7L297.0 417.0L298.2 417.2L299.3 417.5L300.4 417.7L301.5 417.9L302.7 418.2L303.8 418.4L305.0 418.7L306.1 418.9L307.3 419.1L308.5 419.4L309.7 419.6L310.9 419.8L312.0 420.1L313.2 420.3L314.4 420.5L315.7 420.8L316.9 421.0L318.1 421.2L319.3 421.5L320.6 421.7L321.8 421.9L323.0 422.1L324.3 422.4L325.6 422.6L326.8 422.8L328.1 423.0L329.4 423.2L330.7 423.5L332.0 423.7L333.3 423.9L334.6 424.1L335.9 424.3L337.2 424.5L338.6 424.8L339.9 425.0L341.3 425.2L342.6 425.4L344.0 425.6L345.3 425.8L346.7 426.0L348.1 426.2L349.5 426.4L350.9 426.6L352.3 426.8L353.7 427.0L355.1 427.2L356.5 427.4L358.0 427.6L359.4 427.8L360.8 427.9L362.3 428.1L363.8 428.3L365.2 428.5L366.7 428.7L368.2 428.9L369.7 429.0L371.2 429.2L372.7 429.4L374.2 429.6L375.8 429.7L377.3 429.9L378.8 430.1L380.4 430.2L382.0 430.4L383.5 430.6L385.1 430.7L386.7 430.9L388.3 431.1L389.9 431.2L391.5 431.4L393.1 431.5L394.7 431.7L396.4 431.8L398.0 432.0L399.7 432.1L401.3 432.3L403.0 432.4L404.7 432.6L406.4 432.7L408.1 432.9L409.8 433.0L411.5 433.1L413.2 433.3L415.0 433.4L416.7 433.6L418.5 433.7L420.2 433.8L422.0 434.0L423.8 434.1L425.6 434.2L427.4 434.3L429.2 434.5L431.0 434.6L432.8 434.7L434.7 434.8L436.5 435.0L438.4 435.1L440.2 435.2L442.1 435.3L444.0 435.4L445.9 435.6L447.8 435.7L449.7 435.8L451.6 435.9L453.6 436.0L455.5 436.1L457.5 436.2L459.5 436.4L461.4 436.5L463.4 436.6L465.4 436.7L467.4 436.8L469.5 436.9L471.5 437.0L473.5 437.1L475.6 437.2L477.7 437.3L479.7 437.4L481.8 437.5L483.9 437.6L486.0 437.7L488.1 437.8L490.3 437.9L492.4 438.0L494.6 438.1L496.7 438.2L498.9 438.3L501.1 438.4L503.3 438.5L505.5 438.6L507.7 438.7L510.0 438.7L512.2 438.8L514.5 438.9L516.8 439.0L519.0 439.1L521.3 439.2L523.6 439.3L526.0 439.4L528.3 439.4" stroke="#0B2F6E" stroke-width="2.35"/>
</g>
<text x="71.6" y="465.2" font-size="14.0" text-anchor="end" textLength="19.3" lengthAdjust="spacingAndGlyphs" stroke="#1a1a1a" stroke-width="0.18">0.0</text>
<text x="86.4" y="484.8" font-size="14.0" text-anchor="middle" textLength="19.3" lengthAdjust="spacingAndGlyphs" stroke="#1a1a1a" stroke-width="0.18">0.0</text>
<text x="71.6" y="421.6" font-size="14.0" text-anchor="end" textLength="19.3" lengthAdjust="spacingAndGlyphs" stroke="#1a1a1a" stroke-width="0.18">0.5</text>
<text x="130.5" y="484.8" font-size="14.0" text-anchor="middle" textLength="19.3" lengthAdjust="spacingAndGlyphs" stroke="#1a1a1a" stroke-width="0.18">0.5</text>
<text x="71.6" y="378.1" font-size="14.0" text-anchor="end" textLength="19.3" lengthAdjust="spacingAndGlyphs" stroke="#1a1a1a" stroke-width="0.18">1.0</text>
<text x="174.7" y="484.8" font-size="14.0" text-anchor="middle" textLength="19.3" lengthAdjust="spacingAndGlyphs" stroke="#1a1a1a" stroke-width="0.18">1.0</text>
<text x="71.6" y="334.5" font-size="14.0" text-anchor="end" textLength="19.3" lengthAdjust="spacingAndGlyphs" stroke="#1a1a1a" stroke-width="0.18">1.5</text>
<text x="218.8" y="484.8" font-size="14.0" text-anchor="middle" textLength="19.3" lengthAdjust="spacingAndGlyphs" stroke="#1a1a1a" stroke-width="0.18">1.5</text>
<text x="71.6" y="290.9" font-size="14.0" text-anchor="end" textLength="19.3" lengthAdjust="spacingAndGlyphs" stroke="#1a1a1a" stroke-width="0.18">2.0</text>
<text x="262.9" y="484.8" font-size="14.0" text-anchor="middle" textLength="19.3" lengthAdjust="spacingAndGlyphs" stroke="#1a1a1a" stroke-width="0.18">2.0</text>
<text x="71.6" y="247.3" font-size="14.0" text-anchor="end" textLength="19.3" lengthAdjust="spacingAndGlyphs" stroke="#1a1a1a" stroke-width="0.18">2.5</text>
<text x="307.1" y="484.8" font-size="14.0" text-anchor="middle" textLength="19.3" lengthAdjust="spacingAndGlyphs" stroke="#1a1a1a" stroke-width="0.18">2.5</text>
<text x="71.6" y="203.8" font-size="14.0" text-anchor="end" textLength="19.3" lengthAdjust="spacingAndGlyphs" stroke="#1a1a1a" stroke-width="0.18">3.0</text>
<text x="351.2" y="484.8" font-size="14.0" text-anchor="middle" textLength="19.3" lengthAdjust="spacingAndGlyphs" stroke="#1a1a1a" stroke-width="0.18">3.0</text>
<text x="71.6" y="160.2" font-size="14.0" text-anchor="end" textLength="19.3" lengthAdjust="spacingAndGlyphs" stroke="#1a1a1a" stroke-width="0.18">3.5</text>
<text x="395.3" y="484.8" font-size="14.0" text-anchor="middle" textLength="19.3" lengthAdjust="spacingAndGlyphs" stroke="#1a1a1a" stroke-width="0.18">3.5</text>
<text x="71.6" y="116.6" font-size="14.0" text-anchor="end" textLength="19.3" lengthAdjust="spacingAndGlyphs" stroke="#1a1a1a" stroke-width="0.18">4.0</text>
<text x="439.4" y="484.8" font-size="14.0" text-anchor="middle" textLength="19.3" lengthAdjust="spacingAndGlyphs" stroke="#1a1a1a" stroke-width="0.18">4.0</text>
<text x="71.6" y="73.1" font-size="14.0" text-anchor="end" textLength="19.3" lengthAdjust="spacingAndGlyphs" stroke="#1a1a1a" stroke-width="0.18">4.5</text>
<text x="483.6" y="484.8" font-size="14.0" text-anchor="middle" textLength="19.3" lengthAdjust="spacingAndGlyphs" stroke="#1a1a1a" stroke-width="0.18">4.5</text>
<text x="71.6" y="29.5" font-size="14.0" text-anchor="end" textLength="19.3" lengthAdjust="spacingAndGlyphs" stroke="#1a1a1a" stroke-width="0.18">5.0</text>
<text x="527.7" y="484.8" font-size="14.0" text-anchor="middle" textLength="19.3" lengthAdjust="spacingAndGlyphs" stroke="#1a1a1a" stroke-width="0.18">5.0</text>
<path d="M335.4 160.7H365.7" stroke="#0A66C8" stroke-width="2.25" stroke-linecap="round" fill="none"/>
<text x="369.33" y="164.8" font-size="12.8" textLength="84.62" lengthAdjust="spacingAndGlyphs" stroke="#1a1a1a" stroke-width="0.3">π1(τo,Ūs=30%)</text>
<path d="M335.4 184.7H365.7" stroke="#FF7A1F" stroke-width="2.25" stroke-linecap="round" fill="none"/>
<text x="369.33" y="188.8" font-size="12.8" textLength="84.62" lengthAdjust="spacingAndGlyphs" stroke="#1a1a1a" stroke-width="0.3">π1(τo,Ūs=50%)</text>
<path d="M335.4 208.7H365.7" stroke="#FFC000" stroke-width="2.25" stroke-linecap="round" fill="none"/>
<text x="369.33" y="212.8" font-size="12.8" textLength="84.62" lengthAdjust="spacingAndGlyphs" stroke="#1a1a1a" stroke-width="0.3">π1(τo,Ūs=70%)</text>
<path d="M335.4 232.7H365.7" stroke="#A6A6A6" stroke-width="2.25" stroke-linecap="round" fill="none"/>
<text x="369.33" y="236.8" font-size="12.8" textLength="84.62" lengthAdjust="spacingAndGlyphs" stroke="#1a1a1a" stroke-width="0.3">π1(τo,Ūs=90%)</text>
<path d="M335.4 256.7H365.7" stroke="#1C9AE0" stroke-width="2.25" stroke-linecap="round" fill="none"/>
<text x="369.33" y="260.8" font-size="12.8" textLength="84.62" lengthAdjust="spacingAndGlyphs" stroke="#1a1a1a" stroke-width="0.3">π1(τo,Ūs=95%)</text>
<path d="M335.4 280.7H365.7" stroke="#3DAA35" stroke-width="2.25" stroke-linecap="round" fill="none"/>
<text x="369.33" y="284.8" font-size="12.8" textLength="84.62" lengthAdjust="spacingAndGlyphs" stroke="#1a1a1a" stroke-width="0.3">π1(τo,Ūs=99%)</text>
<path d="M335.4 304.7H365.7" stroke="#0B2F6E" stroke-width="2.25" stroke-linecap="round" fill="none"/>
<text x="369.32" y="308.8" font-size="12.8" textLength="96.24" lengthAdjust="spacingAndGlyphs" stroke="#1a1a1a" stroke-width="0.3">π1(τo,Ūs=99.9%)</text>
<text stroke="#1a1a1a" stroke-width="0.18"><tspan x="243.45" y="515.3" font-size="16.8">π</tspan><tspan x="253.41" y="519.3" font-size="11.3">2 </tspan><tspan x="263.90" y="515.3" font-size="16.8">= </tspan><tspan x="277.68" y="515.3" font-size="16.8">(</tspan><tspan x="283.59" y="515.3" font-size="16.8">σ</tspan><tspan x="294.24" y="515.3" font-size="16.8">'</tspan><tspan x="298.34" y="519.3" font-size="11.3">f</tspan><tspan x="302.80" y="515.3" font-size="16.8" textLength="5.60" lengthAdjust="spacingAndGlyphs">/</tspan><tspan x="308.99" y="515.3" font-size="16.8">σ</tspan><tspan x="319.64" y="515.3" font-size="16.8">'</tspan><tspan x="322.31" y="519.3" font-size="11.3">o</tspan><tspan x="328.79" y="519.3" font-size="11.3">) </tspan><tspan x="337.32" y="515.3" font-size="16.8">)</tspan><tspan x="343.21" y="510.1" font-size="10.6">λ</tspan></text>
<text transform="translate(28.2 369) rotate(-90)" stroke="#1a1a1a" stroke-width="0.18"><tspan x="-0.40" y="0" font-size="16.8">π</tspan><tspan x="10.40" y="4.2" font-size="11.3">1 </tspan><tspan x="19.15" y="0" font-size="16.8">= </tspan><tspan x="32.63" y="0" font-size="16.8">τ</tspan><tspan x="40.06" y="4.2" font-size="11.3">o</tspan><tspan x="46.03" y="4.2" font-size="11.3">,</tspan><tspan x="49.17" y="4.2" font-size="11.3">s</tspan><tspan x="55.98" y="0" font-size="16.8">(</tspan><tspan x="61.45" y="0" font-size="16.8">1</tspan><tspan x="69.85" y="0" font-size="16.8">+</tspan><tspan x="79.29" y="0" font-size="16.8">e</tspan><tspan x="88.96" y="4.2" font-size="11.3">o</tspan><tspan x="96.62" y="0" font-size="16.8">)</tspan><tspan x="101.65" y="-6.6" font-size="10.6">2</tspan><tspan x="107.44" y="0" font-size="16.8">σ</tspan><tspan x="118.59" y="0" font-size="16.8">'</tspan><tspan x="122.41" y="4.2" font-size="11.3">o</tspan><tspan x="129.42" y="0" font-size="16.8">k</tspan><tspan x="137.76" y="4.2" font-size="11.3">o</tspan><tspan x="145.95" y="0" font-size="16.8" textLength="5.60" lengthAdjust="spacingAndGlyphs">/</tspan><tspan x="151.58" y="0" font-size="16.8">(</tspan><tspan x="157.72" y="0" font-size="16.8">I</tspan><tspan x="162.33" y="4.2" font-size="11.3">c</tspan><tspan x="168.80" y="0" font-size="16.8">γ</tspan><tspan x="177.56" y="4.2" font-size="11.3">w</tspan><tspan x="185.28" y="0" font-size="16.8">H</tspan><tspan x="196.31" y="4.2" font-size="11.3">o</tspan><tspan x="203.55" y="-6.6" font-size="10.6">2</tspan><tspan x="209.97" y="0" font-size="16.8">)</tspan></text>
</svg>
</body></html>
